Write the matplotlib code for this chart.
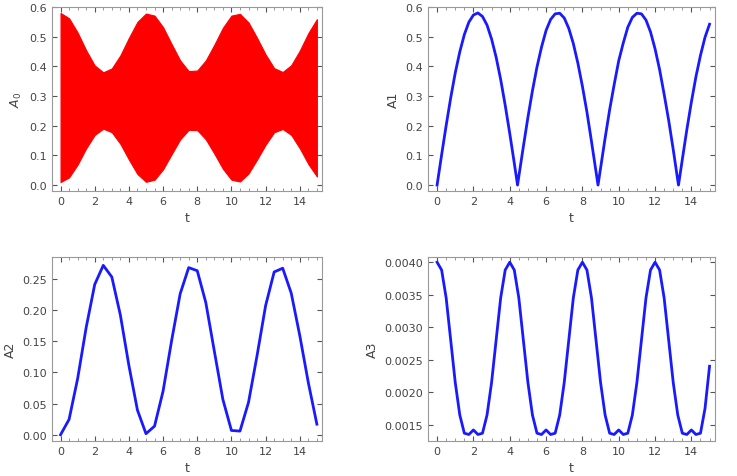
import matplotlib
matplotlib.use("Agg")
import matplotlib.pyplot as plt

t_half = [i*0.5 for i in range(31)]
a0_upper = [.580,.562,.514,.454,.403,.380,.393,.437,.496,.550,.578,.571,.532,.475,.420,.384,.386,.420,.473,.530,.571,.577,.548,.496,.440,.394,.381,.404,.453,.512,.559]
a0_lower = [.010,.026,.069,.124,.169,.190,.178,.139,.086,.037,.011,.018,.053,.104,.154,.186,.185,.154,.106,.055,.018,.012,.039,.086,.136,.178,.189,.169,.124,.071,.029]

t_a1 = [0,.25,.5,.75,1,1.25,1.5,1.75,2,2.25,2.5,2.75,3,3.25,3.5,3.75,4,4.25,4.43,4.5,4.75,5,5.25,5.5,5.75,6,6.25,6.5,6.75,7,7.25,7.5,7.75,8,8.25,8.5,8.75,8.86,9,9.25,9.5,9.75,10,10.25,10.5,10.75,11,11.25,11.5,11.75,12,12.25,12.5,12.75,13,13.25,13.29,13.5,13.75,14,14.25,14.5,14.75,15]
a1 = [0,.102,.201,.294,.378,.449,.507,.549,.573,.580,.568,.539,.492,.431,.356,.269,.174,.074,0,.029,.130,.228,.318,.398,.465,.521,.558,.577,.579,.563,.528,.477,.411,.333,.246,.147,.045,0,.057,.158,.254,.339,.419,.479,.532,.565,.579,.577,.556,.516,.459,.389,.306,.218,.120,.016,0,.086,.187,.280,.365,.437,.498,.542]

a2 = [0,.0247,.090,.172,.241,.2716,.253,.192,.111,.0395,.0017,.0138,.070,.151,.226,.268,.263,.212,.134,.0566,.0069,.0059,.052,.127,.207,.261,.267,.227,.159,.0835,.0170]

t_q = [i*0.25 for i in range(61)]
a3 = [.00400,.00388,.00345,.00280,.00215,.00165,.00137,.00135,.00142,.00135,.00137,.00165,.00215,.00280,.00345,.00388,
      .00400,.00388,.00345,.00280,.00215,.00165,.00137,.00135,.00142,.00135,.00137,.00165,.00215,.00280,.00345,.00388,
      .00400,.00388,.00345,.00280,.00215,.00165,.00137,.00135,.00142,.00135,.00137,.00165,.00215,.00280,.00345,.00388,
      .00400,.00388,.00345,.00280,.00215,.00165,.00137,.00135,.00142,.00135,.00137,.00175,.00240]

fig = plt.figure(figsize=(7.37, 4.77), dpi=100)
W, H = 737, 477
def ax_at(x0, y0, x1, y1):
    return fig.add_axes([x0/W, 1-y1/H, (x1-x0)/W, (y1-y0)/H])

axes = [ax_at(52, 8, 322, 192), ax_at(428, 8, 715, 192),
        ax_at(52, 258, 322, 442), ax_at(428, 258, 715, 442)]
blue = "#1a1aff"
axes[0].fill_between(t_half, a0_lower, a0_upper, color="red", lw=0.8, edgecolor="red")
for ax, x, y in [(axes[1], t_a1, a1), (axes[2], t_half, a2), (axes[3], t_q, a3)]:
    ax.plot(x, y, color=blue, lw=2, solid_joinstyle="round")

labels = ["$A_0$", "A1", "A2", "A3"]
ylims = [(-0.02, 0.6), (-0.02, 0.6), (-0.01, 0.285), (0.00125, 0.00408)]
yticks = [[0,.1,.2,.3,.4,.5,.6],[0,.1,.2,.3,.4,.5,.6],[0,.05,.1,.15,.2,.25],
          [.0015,.002,.0025,.003,.0035,.004]]
yfmt = ["%.1f","%.1f","%.2f","%.4f"]
for ax, lab, yl, yt, f in zip(axes, labels, ylims, yticks, yfmt):
    ax.set_xlim(-0.5, 15.3)
    ax.set_ylim(*yl)
    ax.set_xticks(range(0, 15, 2))
    ax.set_yticks(yt)
    ax.set_yticklabels([f % v for v in yt])
    ax.set_xticks([i*0.5 for i in range(31)], minor=True)
    ax.tick_params(direction="in", top=True, right=True, labelsize=8, colors="#555555", labelcolor="#444444")
    ax.tick_params(which="minor", direction="in", top=True, right=True, length=2, colors="#888888")
    for s in ax.spines.values():
        s.set_color("#999999")
    ax.set_xlabel("t", fontsize=9, color="#444444")
    ax.set_ylabel(lab, fontsize=9, color="#444444")
fig.savefig("out.png", dpi=100)
